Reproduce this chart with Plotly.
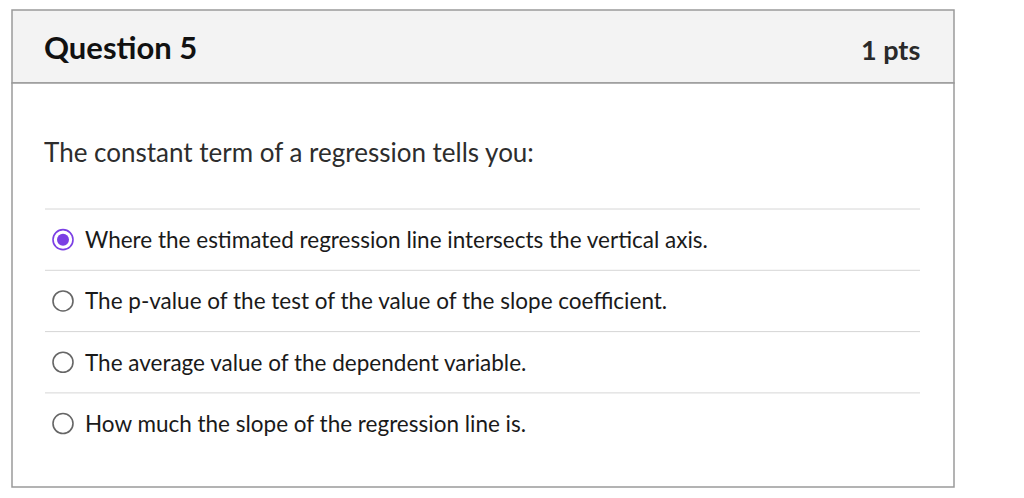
import plotly.graph_objects as go

# quiz content
question_title = "Question 5"
points_label = "1 pts"
question_text = "The constant term of a regression tells you:"
options = [
    "Where the estimated regression line intersects the vertical axis.",
    "The p-value of the test of the value of the slope coefficient.",
    "The average value of the dependent variable.",
    "How much the slope of the regression line is.",
]
selected = [True, False, False, False]

W, H = 1024, 498
off = 8  # page body margin
box_l, box_r, box_t, box_b = 12, 954, 10, 487
head_b = 83
row_top = 209
row_h = 61.3
text_col = "#2d2d2d"
purple = "#7b3fe4"

fig = go.Figure()

shapes = [
    # header background
    dict(type="rect", x0=box_l, x1=box_r, y0=box_t, y1=head_b,
         fillcolor="#f3f3f3", line=dict(color="#9a9a9a", width=1.5), layer="below"),
    # body
    dict(type="rect", x0=box_l, x1=box_r, y0=head_b, y1=box_b,
         fillcolor="white", line=dict(color="#9a9a9a", width=1.5), layer="below"),
]
row_y = []
for i in range(len(options)):
    y0 = row_top + i * row_h
    shapes.append(dict(type="line", x0=45, x1=920, y0=y0, y1=y0,
                       line=dict(color="#d6d6d6", width=1)))
    row_y.append(y0 + row_h / 2)

# radio buttons
fig.add_trace(go.Scatter(
    x=[63] * len(options), y=row_y, mode="markers",
    marker=dict(size=20, color="white",
                line=dict(color=[purple if s else "#666666" for s in selected], width=1.6)),
    hoverinfo="skip", showlegend=False,
))
fig.add_trace(go.Scatter(
    x=[63 for s in selected if s], y=[y for y, s in zip(row_y, selected) if s],
    mode="markers", marker=dict(size=12, color=purple),
    hoverinfo="skip", showlegend=False,
))

annotations = [
    dict(x=42, y=47, text=question_title, xanchor="left", yanchor="middle",
         font=dict(family="Lato", size=31, color="#111111", weight="bold"), showarrow=False),
    dict(x=922, y=49, text=points_label, xanchor="right", yanchor="middle",
         font=dict(family="Lato", size=27, color="#2a2a2a", weight="bold"), showarrow=False),
    dict(x=42, y=152, text=question_text, xanchor="left", yanchor="middle",
         font=dict(family="Lato", size=26, color=text_col), showarrow=False),
]
for txt, y in zip(options, row_y):
    annotations.append(dict(x=83, y=y, text=txt, xanchor="left", yanchor="middle",
                            font=dict(family="Lato", size=22.5, color="#1a1a1a"), showarrow=False))

fig.update_layout(
    width=W - off, height=H - off,
    margin=dict(l=0, r=0, t=0, b=0),
    paper_bgcolor="white", plot_bgcolor="white",
    xaxis=dict(range=[off, W], visible=False, fixedrange=True),
    yaxis=dict(range=[H, off], visible=False, fixedrange=True),
    shapes=shapes, annotations=annotations,
)

fig.write_html("out.html", config={"displayModeBar": False})
